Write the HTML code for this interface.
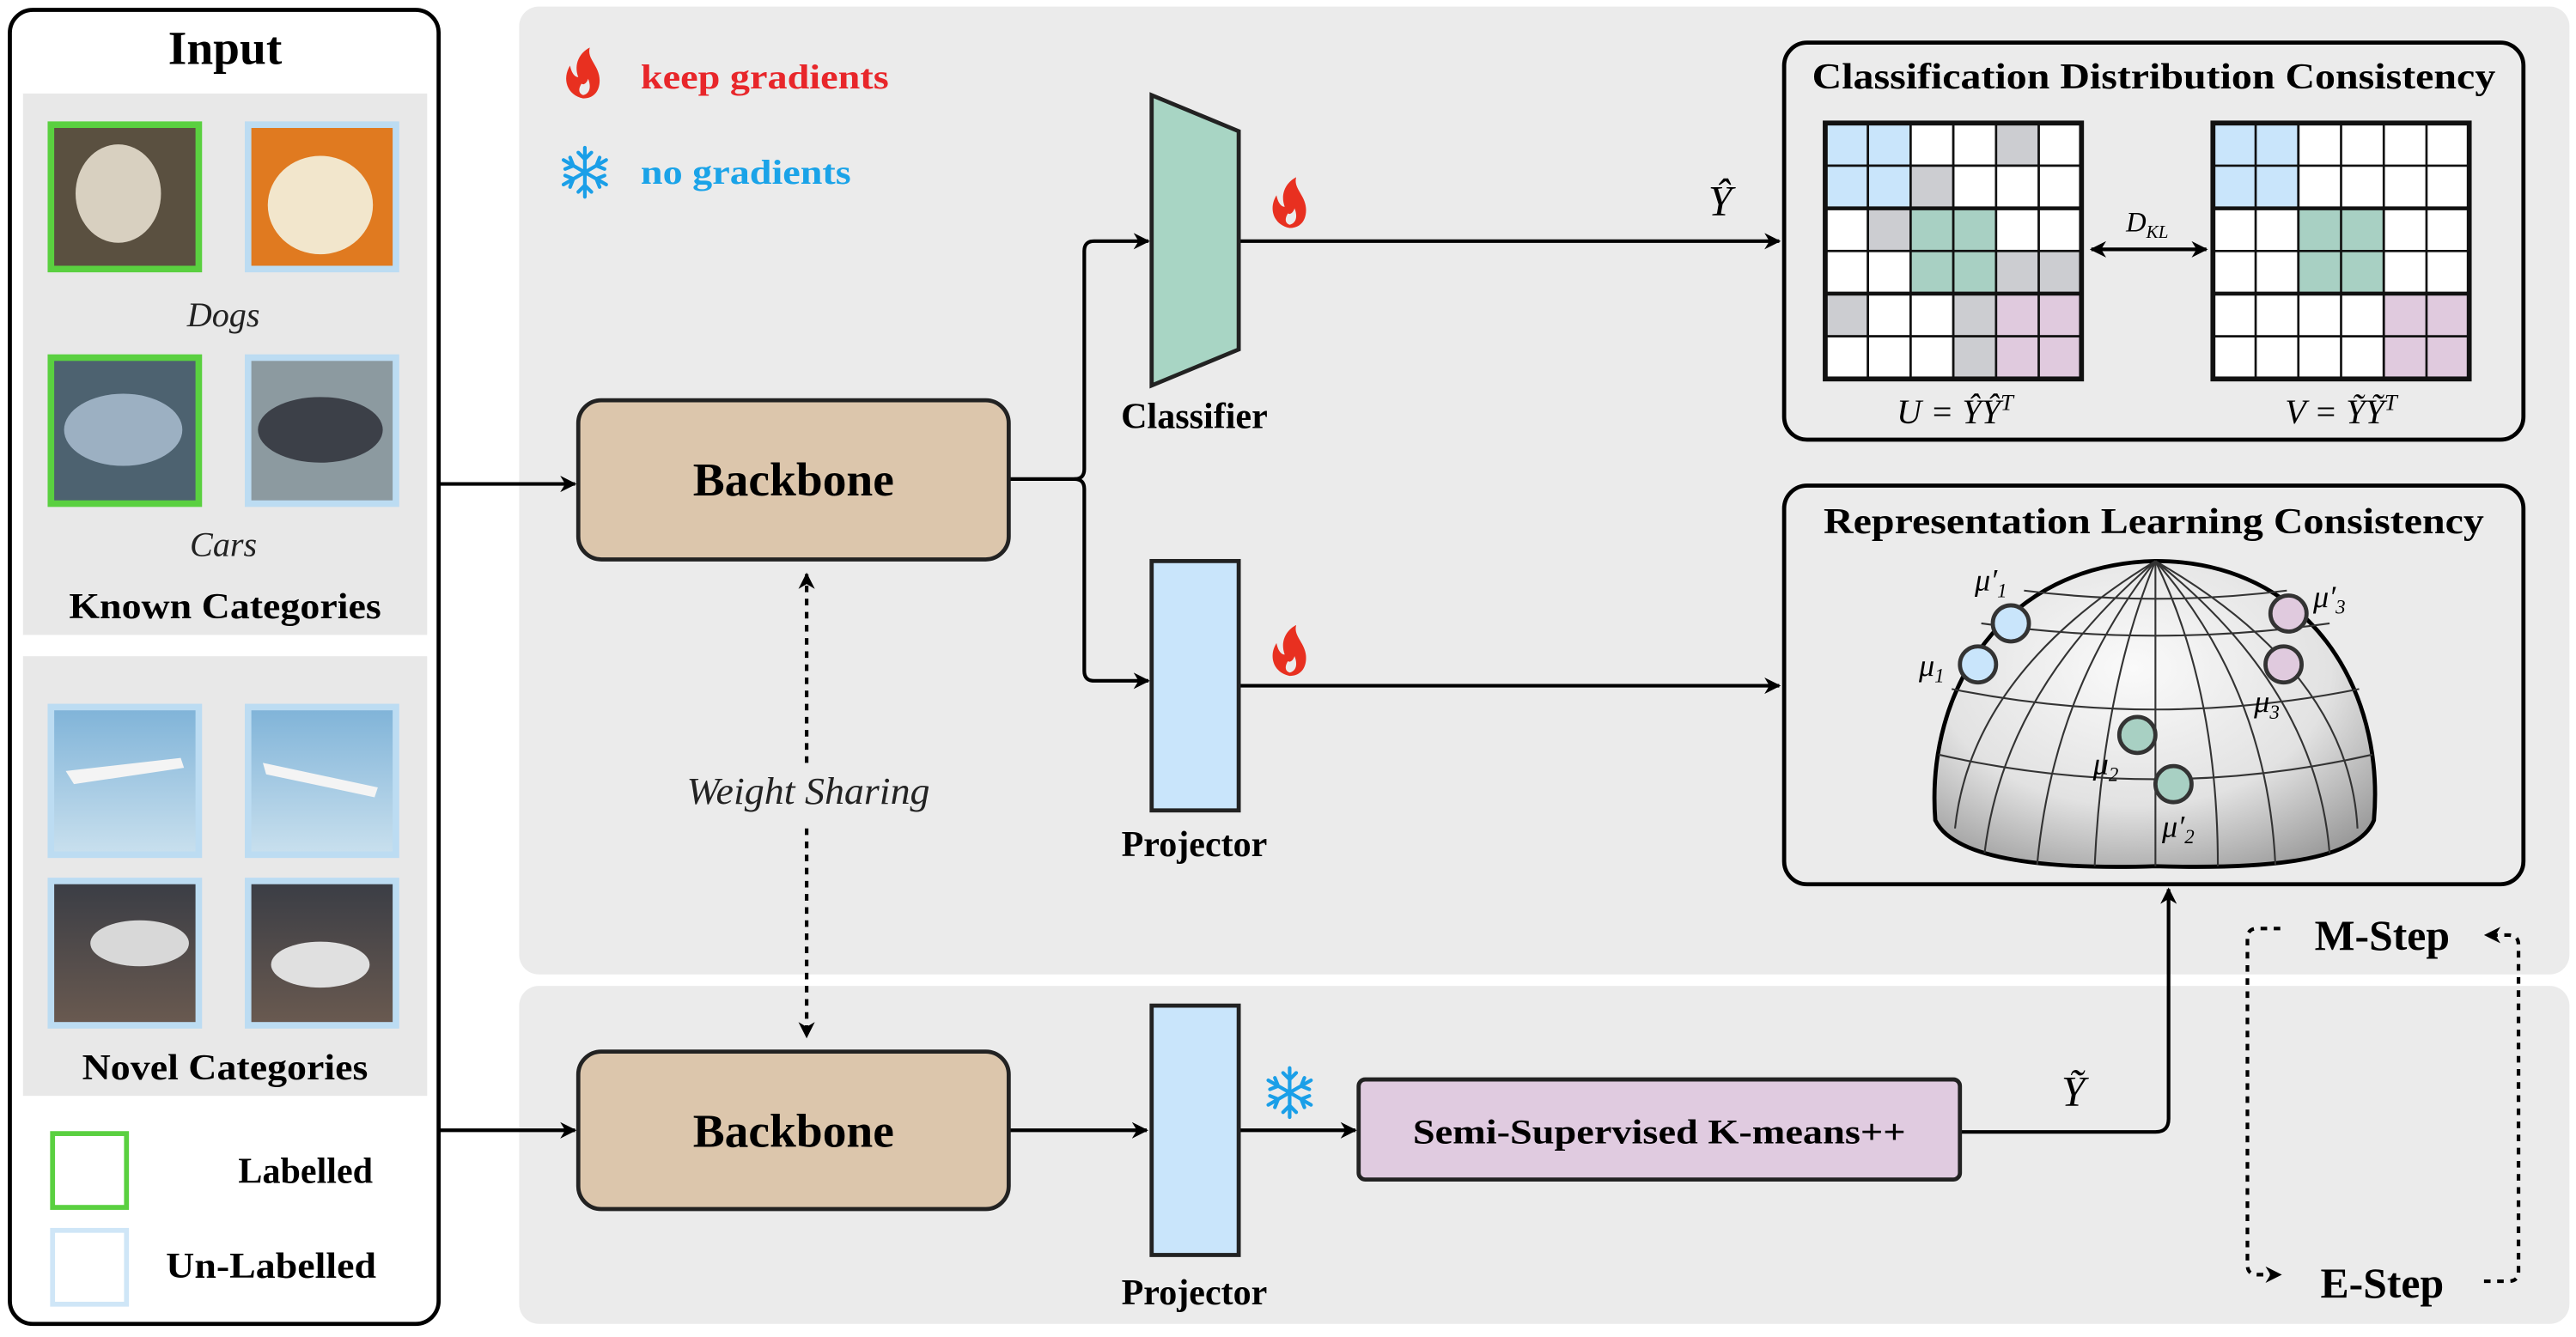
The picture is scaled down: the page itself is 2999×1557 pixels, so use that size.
<!DOCTYPE html>
<html><head><meta charset="utf-8"><style>
html,body{margin:0;padding:0;background:#fff;}
svg{display:block;}
text{font-family:"Liberation Serif",serif;}
</style></head><body>
<svg width="2999" height="1557" viewBox="0 0 1568 815" preserveAspectRatio="none" xmlns="http://www.w3.org/2000/svg" font-family="Liberation Serif, serif">
<defs>
<marker id="ar" markerWidth="10" markerHeight="10" refX="9" refY="5" orient="auto" markerUnits="userSpaceOnUse"><path d="M0,0 L10,5 L0,10 L3,5 z" fill="#000"/></marker>
<marker id="ars" markerWidth="10" markerHeight="10" refX="1" refY="5" orient="auto" markerUnits="userSpaceOnUse"><path d="M10,0 L0,5 L10,10 L7,5 z" fill="#000"/></marker>
<radialGradient id="dome" cx="0.45" cy="0.35" r="0.75"><stop offset="0" stop-color="#fafafa"/><stop offset="0.6" stop-color="#e2e2e2"/><stop offset="1" stop-color="#9a9a9a"/></radialGradient>
<linearGradient id="sky" x1="0" y1="0" x2="0" y2="1"><stop offset="0" stop-color="#7fb3d8"/><stop offset="1" stop-color="#c9e0ee"/></linearGradient>
<linearGradient id="dark" x1="0" y1="0" x2="0" y2="1"><stop offset="0" stop-color="#3a3d45"/><stop offset="1" stop-color="#6a5a50"/></linearGradient>
<g id="flame"><path d="M0,14 C-10,12 -13,2 -8,-6 C-7,-1 -5,1 -3,1 C-6,-7 -2,-14 4,-17 C2,-10 10,-6 10,3 C10,10 6,14 0,14 Z M0,12 C4,11 5,7 3,2 C2,5 0,6 -1,5 C-3,8 -3,11 0,12Z" fill="#e83020" fill-rule="evenodd"/></g>
<g id="snow" stroke="#1a9fe8" stroke-width="2.2" stroke-linecap="round" fill="none"><path d="M0,-15 V15 M-13,-7.5 L13,7.5 M-13,7.5 L13,-7.5 M-4,-12 L0,-8 L4,-12 M-4,12 L0,8 L4,12 M-12,-2 L-7,-4 L-9,-9 M12,2 L7,4 L9,9 M-12,2 L-7,4 L-9,9 M12,-2 L7,-4 L9,-9"/></g>
</defs>
<rect width="1568" height="815" fill="#fff"/>

<rect x="6" y="6" width="261" height="801" rx="14" fill="#fff" stroke="#000" stroke-width="2.5"/>
<text x="137" y="39" font-size="29" font-weight="bold" text-anchor="middle">Input</text>
<rect x="14" y="57" width="246" height="330" fill="#e8e8e8"/>
<rect x="14" y="400" width="246" height="268" fill="#e8e8e8"/>
<rect x="31" y="76" width="90" height="88" fill="#5a5040" stroke="#5ad040" stroke-width="4"/>
<ellipse cx="72" cy="118" rx="26" ry="30" fill="#d8d0c0"/>
<rect x="151" y="76" width="90" height="88" fill="#e07a20" stroke="#bcdcf2" stroke-width="4"/>
<ellipse cx="195" cy="125" rx="32" ry="30" fill="#f2e6cc"/>
<text x="136" y="199" font-size="21" font-style="italic" text-anchor="middle" fill="#222">Dogs</text>
<rect x="31" y="218" width="90" height="89" fill="#4d6270" stroke="#5ad040" stroke-width="4"/>
<ellipse cx="75" cy="262" rx="36" ry="22" fill="#9cb0c2"/>
<rect x="151" y="218" width="90" height="89" fill="#8c9aa0" stroke="#bcdcf2" stroke-width="4"/>
<ellipse cx="195" cy="262" rx="38" ry="20" fill="#3c4048"/>
<text x="136" y="339" font-size="21" font-style="italic" text-anchor="middle" fill="#222">Cars</text>
<text x="137" y="377" font-size="22" font-weight="bold" text-anchor="middle" textLength="190" lengthAdjust="spacingAndGlyphs">Known Categories</text>
<rect x="31" y="431" width="90" height="90" fill="url(#sky)" stroke="#bcdcf2" stroke-width="4"/>
<path d="M40,470 L110,462 L112,468 L45,478 Z" fill="#f4f4f4"/>
<rect x="151" y="431" width="90" height="90" fill="url(#sky)" stroke="#bcdcf2" stroke-width="4"/>
<path d="M160,465 L230,480 L228,486 L162,472 Z" fill="#f4f4f4"/>
<rect x="31" y="537" width="90" height="88" fill="url(#dark)" stroke="#bcdcf2" stroke-width="4"/>
<ellipse cx="85" cy="575" rx="30" ry="14" fill="#d8d8d8"/>
<rect x="151" y="537" width="90" height="88" fill="url(#dark)" stroke="#bcdcf2" stroke-width="4"/>
<ellipse cx="195" cy="588" rx="30" ry="14" fill="#e0e0e0"/>
<text x="137" y="658" font-size="22" font-weight="bold" text-anchor="middle" textLength="174" lengthAdjust="spacingAndGlyphs">Novel Categories</text>
<rect x="32" y="691" width="45" height="45" fill="#fff" stroke="#5ad040" stroke-width="3"/>
<text x="186" y="721" font-size="22" font-weight="bold" text-anchor="middle">Labelled</text>
<rect x="32" y="750" width="45" height="45" fill="#fff" stroke="#cfe6f7" stroke-width="3"/>
<text x="165" y="779" font-size="22" font-weight="bold" text-anchor="middle" textLength="128" lengthAdjust="spacingAndGlyphs">Un-Labelled</text>

<rect x="316" y="4" width="1248" height="590" rx="12" fill="#ebebeb"/>
<rect x="316" y="601" width="1248" height="206" rx="12" fill="#ebebeb"/>

<use href="#flame" x="355" y="46"/>
<text x="390" y="54" font-size="21" font-weight="bold" fill="#e8262a" textLength="151" lengthAdjust="spacingAndGlyphs">keep gradients</text>
<use href="#snow" x="356" y="105"/>
<text x="390" y="112" font-size="21" font-weight="bold" fill="#1aa3e8" textLength="128" lengthAdjust="spacingAndGlyphs">no gradients</text>

<g stroke="#000" stroke-width="2.2" fill="none">
<line x1="267" y1="295" x2="350" y2="295" marker-end="url(#ar)"/>
<line x1="267" y1="689" x2="350" y2="689" marker-end="url(#ar)"/>
<path d="M614,292 H654 Q660,292 660,286 V153 Q660,147 666,147 H699" marker-end="url(#ar)"/>
<path d="M654,292 Q660,292 660,298 V409 Q660,415 666,415 H699" marker-end="url(#ar)"/>
<line x1="754" y1="147" x2="1083" y2="147" marker-end="url(#ar)"/>
<line x1="754" y1="418" x2="1083" y2="418" marker-end="url(#ar)"/>
<line x1="614" y1="689" x2="698" y2="689" marker-end="url(#ar)"/>
<line x1="754" y1="689" x2="825" y2="689" marker-end="url(#ar)"/>
<path d="M1193,690 H1312 Q1320,690 1320,682 V542" marker-end="url(#ar)"/>
<line x1="491" y1="465" x2="491" y2="350" stroke-dasharray="4,4" marker-end="url(#ar)"/>
<line x1="491" y1="505" x2="491" y2="632" stroke-dasharray="4,4" marker-end="url(#ar)"/>
<path d="M1388,566 H1374 Q1368,566 1368,572 V771 Q1368,777 1374,777 H1388" stroke-dasharray="4,4" marker-end="url(#ar)"/>
<path d="M1512,781 H1527 Q1533,781 1533,775 V576 Q1533,570 1527,570 H1513" stroke-dasharray="4,4" marker-end="url(#ar)"/>
</g>
<text x="492" y="490" font-size="23" font-style="italic" text-anchor="middle" fill="#222" textLength="148" lengthAdjust="spacingAndGlyphs">Weight Sharing</text>

<rect x="352" y="244" width="262" height="97" rx="14" fill="#dcc6ac" stroke="#222" stroke-width="2.5"/>
<text x="483" y="302" font-size="29" font-weight="bold" text-anchor="middle">Backbone</text>
<rect x="352" y="641" width="262" height="96" rx="14" fill="#dcc6ac" stroke="#222" stroke-width="2.5"/>
<text x="483" y="699" font-size="29" font-weight="bold" text-anchor="middle">Backbone</text>

<polygon points="701,58 754,80 754,213 701,235" fill="#a8d5c4" stroke="#222" stroke-width="2.5"/>
<text x="727" y="261" font-size="22" font-weight="bold" text-anchor="middle">Classifier</text>
<use href="#flame" x="785" y="125"/>
<text x="1047" y="131" font-size="26" font-style="italic" text-anchor="middle">Ŷ</text>

<rect x="701" y="342" width="53" height="152" fill="#c9e5fb" stroke="#222" stroke-width="2.5"/>
<text x="727" y="522" font-size="22" font-weight="bold" text-anchor="middle">Projector</text>
<use href="#flame" x="785" y="398"/>
<rect x="701" y="613" width="53" height="152" fill="#c9e5fb" stroke="#222" stroke-width="2.5"/>
<text x="727" y="795" font-size="22" font-weight="bold" text-anchor="middle">Projector</text>
<use href="#snow" x="785" y="666"/>

<rect x="827" y="658" width="366" height="61" rx="4" fill="#e0cbe0" stroke="#222" stroke-width="2.5"/>
<text x="1010" y="697" font-size="21" font-weight="bold" text-anchor="middle" textLength="300" lengthAdjust="spacingAndGlyphs">Semi-Supervised K-means++</text>
<text x="1262" y="674" font-size="26" font-style="italic" text-anchor="middle">Ỹ</text>

<rect x="1086" y="26" width="450" height="242" rx="14" fill="#ebebeb" stroke="#000" stroke-width="2.5"/>
<text x="1311" y="54" font-size="22" font-weight="bold" text-anchor="middle" textLength="416" lengthAdjust="spacingAndGlyphs">Classification Distribution Consistency</text>
<g transform="translate(1111,75)" stroke="#111" stroke-width="1.4">
<rect x="0" y="0" width="26" height="26" fill="#c9e5fb"/><rect x="26" y="0" width="26" height="26" fill="#c9e5fb"/><rect x="52" y="0" width="26" height="26" fill="#fff"/><rect x="78" y="0" width="26" height="26" fill="#fff"/><rect x="104" y="0" width="26" height="26" fill="#cccdd1"/><rect x="130" y="0" width="26" height="26" fill="#fff"/>
<rect x="0" y="26" width="26" height="26" fill="#c9e5fb"/><rect x="26" y="26" width="26" height="26" fill="#c9e5fb"/><rect x="52" y="26" width="26" height="26" fill="#cccdd1"/><rect x="78" y="26" width="26" height="26" fill="#fff"/><rect x="104" y="26" width="26" height="26" fill="#fff"/><rect x="130" y="26" width="26" height="26" fill="#fff"/>
<rect x="0" y="52" width="26" height="26" fill="#fff"/><rect x="26" y="52" width="26" height="26" fill="#cccdd1"/><rect x="52" y="52" width="26" height="26" fill="#a8d0c3"/><rect x="78" y="52" width="26" height="26" fill="#a8d0c3"/><rect x="104" y="52" width="26" height="26" fill="#fff"/><rect x="130" y="52" width="26" height="26" fill="#fff"/>
<rect x="0" y="78" width="26" height="26" fill="#fff"/><rect x="26" y="78" width="26" height="26" fill="#fff"/><rect x="52" y="78" width="26" height="26" fill="#a8d0c3"/><rect x="78" y="78" width="26" height="26" fill="#a8d0c3"/><rect x="104" y="78" width="26" height="26" fill="#cccdd1"/><rect x="130" y="78" width="26" height="26" fill="#cccdd1"/>
<rect x="0" y="104" width="26" height="26" fill="#cccdd1"/><rect x="26" y="104" width="26" height="26" fill="#fff"/><rect x="52" y="104" width="26" height="26" fill="#fff"/><rect x="78" y="104" width="26" height="26" fill="#cccdd1"/><rect x="104" y="104" width="26" height="26" fill="#e0cade"/><rect x="130" y="104" width="26" height="26" fill="#e0cade"/>
<rect x="0" y="130" width="26" height="26" fill="#fff"/><rect x="26" y="130" width="26" height="26" fill="#fff"/><rect x="52" y="130" width="26" height="26" fill="#fff"/><rect x="78" y="130" width="26" height="26" fill="#cccdd1"/><rect x="104" y="130" width="26" height="26" fill="#e0cade"/><rect x="130" y="130" width="26" height="26" fill="#e0cade"/>
<rect x="0" y="0" width="156" height="156" fill="none" stroke-width="3"/>
<line x1="0" y1="52" x2="156" y2="52" stroke-width="2.4"/><line x1="0" y1="104" x2="156" y2="104" stroke-width="2.4"/>
</g>
<g transform="translate(1347,75)" stroke="#111" stroke-width="1.4">
<rect x="0" y="0" width="156" height="156" fill="#fff"/>
<rect x="0" y="0" width="52" height="52" fill="#c9e5fb"/>
<rect x="52" y="52" width="52" height="52" fill="#a8d0c3"/>
<rect x="104" y="104" width="52" height="52" fill="#e0cade"/>
<path d="M26,0V156M52,0V156M78,0V156M104,0V156M130,0V156M0,26H156M0,78H156M0,130H156"/>
<line x1="0" y1="52" x2="156" y2="52" stroke-width="2.4"/><line x1="0" y1="104" x2="156" y2="104" stroke-width="2.4"/>
<rect x="0" y="0" width="156" height="156" fill="none" stroke-width="3"/>
</g>
<line x1="1273" y1="152" x2="1343" y2="152" stroke="#000" stroke-width="2.2" marker-start="url(#ars)" marker-end="url(#ar)"/>
<text x="1307" y="141" font-size="17" font-style="italic" text-anchor="middle">D<tspan font-size="11" dy="4">KL</tspan></text>
<text x="1190" y="258" font-size="21" font-style="italic" text-anchor="middle">U = ŶŶ<tspan font-size="14" dy="-8">T</tspan></text>
<text x="1425" y="258" font-size="21" font-style="italic" text-anchor="middle">V = ỸỸ<tspan font-size="14" dy="-8">T</tspan></text>

<rect x="1086" y="296" width="450" height="243" rx="14" fill="#ebebeb" stroke="#000" stroke-width="2.5"/>
<text x="1311" y="325" font-size="22" font-weight="bold" text-anchor="middle" textLength="402" lengthAdjust="spacingAndGlyphs">Representation Learning Consistency</text>
<path d="M1178,500 C1172,420 1220,344 1312,342 C1405,342 1452,420 1445,500 C1435,525 1380,530 1312,528 C1250,530 1190,525 1178,500 Z" fill="url(#dome)" stroke="#000" stroke-width="2.5"/>
<g stroke="#333" stroke-width="1.1" fill="none">
<path d="M1206,380 Q1312,395 1418,380"/>
<path d="M1188,420 Q1312,445 1436,420"/>
<path d="M1180,460 Q1312,490 1444,460"/>
<path d="M1232,360 Q1312,370 1392,360"/>
<path d="M1312,342 V528"/>
<path d="M1312,342 Q1280,420 1275,528"/><path d="M1312,342 Q1350,420 1350,528"/>
<path d="M1312,342 Q1250,420 1240,527"/><path d="M1312,342 Q1380,420 1385,527"/>
<path d="M1312,342 Q1220,420 1208,520"/><path d="M1312,342 Q1410,420 1418,520"/>
<path d="M1312,342 Q1200,410 1190,505"/><path d="M1312,342 Q1430,410 1435,505"/>
</g>
<g stroke="#333" stroke-width="2.5">
<circle cx="1224" cy="380" r="11" fill="#c9e5fb"/><circle cx="1204" cy="405" r="11" fill="#c9e5fb"/>
<circle cx="1393" cy="374" r="11" fill="#e0cade"/><circle cx="1390" cy="405" r="11" fill="#e0cade"/>
<circle cx="1301" cy="448" r="11" fill="#a8d0c3"/><circle cx="1323" cy="478" r="11" fill="#a8d0c3"/>
</g>
<g font-size="19" font-style="italic">
<text x="1202" y="360">μ′<tspan font-size="12" dy="4">1</tspan></text>
<text x="1168" y="412">μ<tspan font-size="12" dy="4">1</tspan></text>
<text x="1408" y="370">μ′<tspan font-size="12" dy="4">3</tspan></text>
<text x="1372" y="434">μ<tspan font-size="12" dy="4">3</tspan></text>
<text x="1274" y="472">μ<tspan font-size="12" dy="4">2</tspan></text>
<text x="1316" y="510">μ′<tspan font-size="12" dy="4">2</tspan></text>
</g>

<text x="1450" y="579" font-size="26" font-weight="bold" text-anchor="middle">M-Step</text>
<text x="1450" y="791" font-size="26" font-weight="bold" text-anchor="middle">E-Step</text>
</svg>
</body></html>
